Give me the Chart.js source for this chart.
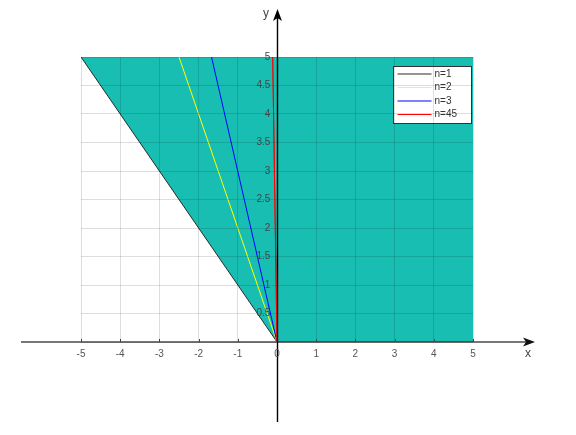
<!DOCTYPE html>
<html><head><meta charset="utf-8">
<script src="https://cdn.jsdelivr.net/npm/chart.js@4"></script>
<style>html,body{margin:0;padding:0;background:#fff;overflow:hidden;}</style>
</head><body>
<canvas id="c" width="576" height="435"></canvas>
<script>
// ---- data ----
const seriesLabels = ['n=1', 'n=2', 'n=3', 'n=45'];
const seriesColors = ['#2b2b2b', '#ffff00', '#0000ff', '#ff0000'];
const n1X = [-5, 0, 5];
const n1Y = [5, 0, 0];
const n2X = [-2.5, 0];
const n2Y = [5, 0];
const n3X = [-1.67, 0];
const n3Y = [5, 0];
const n45X = [-0.11, 0];
const n45Y = [5, 0];
const xTickValues = [-5, -4, -3, -2, -1, 0, 1, 2, 3, 4, 5];
const xTickLabels = ['-5', '-4', '-3', '-2', '-1', '0', '1', '2', '3', '4', '5'];
const yTickValues = [0, 0.5, 1, 1.5, 2, 2.5, 3, 3.5, 4, 4.5, 5];
const yTickLabels = ['', '0.5', '1', '1.5', '2', '2.5', '3', '3.5', '4', '4.5', '5'];
const axisNames = ['x', 'y'];
const fillColor = '#19beb2';

const pts = (xs, ys) => xs.map((x, i) => ({x: x, y: ys[i]}));

const axesPlugin = {
  id: 'axesPlugin',
  afterDatasetsDraw(chart) {
    const ctx = chart.ctx;
    const xs = chart.scales.x, ys = chart.scales.y;
    const x0 = xs.getPixelForValue(0), y0 = ys.getPixelForValue(0);
    ctx.save();
    // x axis
    ctx.strokeStyle = '#4a4a4a';
    ctx.lineWidth = 1.5;
    ctx.beginPath();
    ctx.moveTo(21, y0);
    ctx.lineTo(526, y0);
    ctx.stroke();
    ctx.fillStyle = '#111';
    ctx.beginPath();
    ctx.moveTo(535, y0);
    ctx.lineTo(523, y0 - 4.5);
    ctx.lineTo(526, y0);
    ctx.lineTo(523, y0 + 4.5);
    ctx.closePath();
    ctx.fill();
    // x tick marks
    ctx.strokeStyle = '#4a4a4a';
    ctx.lineWidth = 1;
    xTickValues.forEach(v => {
      const px = Math.round(xs.getPixelForValue(v)) + 0.5;
      ctx.beginPath(); ctx.moveTo(px, y0); ctx.lineTo(px, y0 - 3); ctx.stroke();
    });
    // y axis
    ctx.strokeStyle = '#000';
    ctx.lineWidth = 1.4;
    ctx.beginPath();
    ctx.moveTo(x0 + 0.5, 422);
    ctx.lineTo(x0 + 0.5, 18);
    ctx.stroke();
    ctx.fillStyle = '#000';
    ctx.beginPath();
    ctx.moveTo(x0 + 0.5, 9);
    ctx.lineTo(x0 - 4, 21);
    ctx.lineTo(x0 + 0.5, 18);
    ctx.lineTo(x0 + 5, 21);
    ctx.closePath();
    ctx.fill();
    // red n=45 foot drawn over the axis, as in the reference
    const red = chart.getDatasetMeta(3);
    if (red && red.dataset) { red.dataset.draw(ctx, chart.chartArea); }
    // axis names
    ctx.fillStyle = '#444';
    ctx.font = '12px "Liberation Sans", Arial, sans-serif';
    ctx.textAlign = 'center';
    ctx.textBaseline = 'middle';
    ctx.fillText(axisNames[0], 528, y0 + 12);
    ctx.fillText(axisNames[1], x0 - 11, 14);
    // legend
    const area = chart.chartArea;
    const lw = 78, lh = 57;
    const lx = area.right - 79.5, ly = area.top + 9.5;
    ctx.fillStyle = '#fff';
    ctx.fillRect(lx, ly, lw, lh);
    ctx.strokeStyle = '#333';
    ctx.lineWidth = 1;
    ctx.strokeRect(lx, ly, lw, lh);
    ctx.font = '10px "Liberation Sans", Arial, sans-serif';
    ctx.textAlign = 'left';
    chart.data.datasets.forEach((ds, i) => {
      const ry = ly + 7.5 + i * 13.5;
      ctx.strokeStyle = ds.borderColor;
      ctx.lineWidth = 1.2;
      ctx.beginPath(); ctx.moveTo(lx + 4, ry); ctx.lineTo(lx + 38, ry); ctx.stroke();
      ctx.fillStyle = '#333';
      ctx.fillText(ds.label, lx + 41, ry);
    });
    ctx.restore();
  }
};

new Chart(document.getElementById('c'), {
  type: 'scatter',
  data: {
    datasets: [
      {label: seriesLabels[0], data: pts(n1X, n1Y), borderColor: seriesColors[0], backgroundColor: fillColor, fill: 'end', borderWidth: 1, order: 5},
      {label: seriesLabels[1], data: pts(n2X, n2Y), borderColor: seriesColors[1], backgroundColor: seriesColors[1], fill: false, borderWidth: 1, order: 2},
      {label: seriesLabels[2], data: pts(n3X, n3Y), borderColor: seriesColors[2], backgroundColor: seriesColors[2], fill: false, borderWidth: 1, order: 1},
      {label: seriesLabels[3], data: pts(n45X, n45Y), borderColor: seriesColors[3], backgroundColor: seriesColors[3], fill: false, borderWidth: 0.9, order: 0}
    ]
  },
  options: {
    responsive: false,
    animation: false,
    showLine: true,
    layout: {padding: {left: 81, right: 103, top: 57, bottom: 93}},
    elements: {point: {radius: 0, hoverRadius: 0}, line: {tension: 0}},
    plugins: {legend: {display: false}, tooltip: {enabled: false}},
    scales: {
      x: {
        type: 'linear', min: -5, max: 5, position: {y: 0},
        afterBuildTicks: s => { s.ticks = xTickValues.map(v => ({value: v})); },
        grid: {color: 'rgba(0,0,0,0.13)', drawTicks: false, z: 1},
        border: {display: false},
        ticks: {z: 1, padding: 6, color: '#555', font: {size: 10, family: '"Liberation Sans", Arial, sans-serif'},
          callback: v => xTickLabels[xTickValues.indexOf(v)], maxRotation: 0, autoSkip: false}
      },
      y: {
        type: 'linear', min: 0, max: 5, position: {x: -0.17},
        afterBuildTicks: s => { s.ticks = yTickValues.map(v => ({value: v})); },
        grid: {color: 'rgba(0,0,0,0.13)', drawTicks: false, z: 1},
        border: {display: false},
        ticks: {z: 1, padding: 6, color: '#444', font: {size: 10, family: '"Liberation Sans", Arial, sans-serif'},
          callback: v => yTickLabels[yTickValues.indexOf(v)], autoSkip: false}
      }
    }
  },
  plugins: [axesPlugin]
});
</script>
</body></html>
